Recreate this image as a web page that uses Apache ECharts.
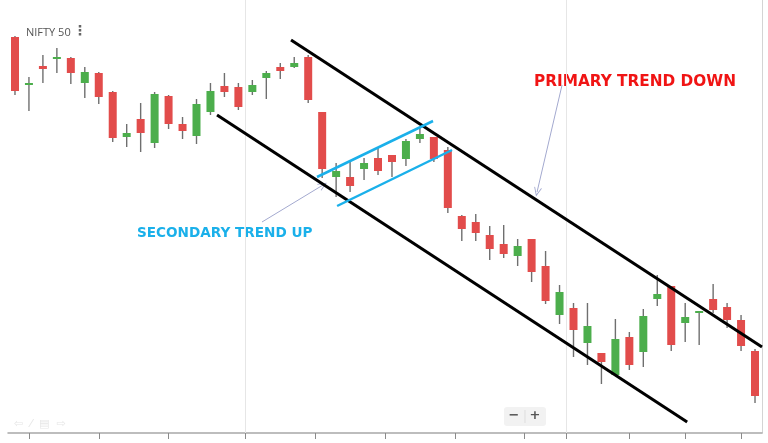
<!DOCTYPE html>
<html>
<head>
<meta charset="utf-8">
<style>
  html, body { margin: 0; padding: 0; background: #fff; }
  #chart { width: 768px; height: 443px; }
</style>
<script src="https://cdn.jsdelivr.net/npm/echarts@6/dist/echarts.min.js"></script>
</head>
<body>
<div id="chart"></div>
<script>
  /******************/
  //region    //data

  // daily bars (index points)
  let opens  = [396, 348, 367, 374, 375, 350, 360, 341, 296, 314, 290, 337, 309, 297, 321, 347, 346, 341,
                355, 366, 366, 376, 321, 256, 256, 264, 275, 278, 274, 294, 296, 283, 217, 211, 198, 189,
                177, 194, 167, 118, 125, 90, 80, 58, 96, 81, 134, 147, 110, 120, 134, 126, 113, 82];
  let closes = [342, 350, 364, 376, 360, 361, 336, 295, 300, 300, 339, 309, 302, 329, 342, 341, 326, 348,
                360, 362, 370, 333, 264, 262, 247, 270, 262, 271, 292, 299, 274, 225, 204, 200, 184, 179,
                187, 161, 132, 141, 103, 107, 71, 94, 68, 117, 139, 88, 116, 122, 123, 113, 87, 37];
  let lows   = [338, 322, 350, 360, 349, 335, 329, 291, 286, 281, 285, 304, 294, 289, 318, 336, 323, 338,
                334, 354, 365, 330, 255, 236, 241, 253, 258, 256, 267, 290, 271, 220, 192, 192, 173, 175,
                167, 151, 129, 109, 76, 68, 49, 57, 63, 66, 127, 82, 91, 88, 120, 105, 82, 30];
  let highs  = [397, 356, 378, 385, 376, 366, 361, 342, 309, 330, 341, 338, 316, 334, 350, 360, 350, 353,
                362, 370, 376, 378, 321, 270, 271, 275, 285, 278, 294, 306, 296, 286, 218, 219, 207, 208,
                194, 194, 182, 148, 130, 130, 80, 114, 101, 124, 158, 147, 130, 122, 149, 130, 118, 84];
  let days = opens.map((v, i) => String(i + 1));

  // axis ticks (in bar units, between / on sessions)
  let tickPos = [1, 6, 11, 16.5, 21.5, 26.5, 31.5, 36.5, 39.5, 44, 48, 52];
  let monthBreaks = [16.5, 39.5];

  // trend channels: [barIndex, level]
  let primaryUpper = [[19.77, 393], [53.5, 86]];
  let primaryLower = [[14.47, 318], [48.14, 11]];
  let secondaryUpper = [[21.63, 256], [29.94, 312]];
  let secondaryLower = [[23.07, 227], [31.3, 283]];
  let secondaryArrow = [[17.69, 211], [22.06, 248]];
  let primaryArrow = [[39.18, 348], [37.39, 241]];

  //endregion

  /******************/
  //region    //chart

  let UP = '#4cae4c', DOWN = '#e24c4b';
  let chevron = 'path://M0,10 L5,0 L10,10 L8.8,10 L5,2.4 L1.2,10 Z';

  function renderCandle(params, api) {
    let idx = api.value(0);
    let o = api.value(1), c = api.value(2), l = api.value(3), h = api.value(4);
    let top = api.coord([idx, Math.max(o, c)]);
    let bot = api.coord([idx, Math.min(o, c)]);
    let lo = api.coord([idx, l]);
    let hi = api.coord([idx, h]);
    let w = 8;
    let color = c >= o ? UP : DOWN;
    return {
      type: 'group',
      children: [
        {
          type: 'line',
          shape: {x1: hi[0], y1: hi[1], x2: lo[0], y2: lo[1]},
          style: {stroke: '#6f6f6f', lineWidth: 1.4}
        },
        {
          type: 'rect',
          shape: {x: top[0] - w / 2, y: top[1], width: w, height: Math.max(bot[1] - top[1], 1.5)},
          style: {fill: color}
        }
      ]
    };
  }

  function trend(data, color, width) {
    return {
      type: 'line',
      xAxisIndex: 1,
      data: data,
      showSymbol: false,
      silent: true,
      lineStyle: {color: color, width: width},
      z: 5
    };
  }

  let chart = echarts.init(document.getElementById('chart'));

  let option = {
    animation: false,
    grid: {left: 8, right: 6, top: 0, bottom: 10},
    xAxis: [
      {
        type: 'category',
        data: days,
        boundaryGap: true,
        axisLine: {show: true, onZero: false, lineStyle: {color: '#a8a8a8', width: 1.5}},
        axisTick: {show: false},
        axisLabel: {show: false},
        splitLine: {show: false}
      },
      {
        type: 'value',
        min: -0.5,
        max: days.length - 0.5,
        position: 'bottom',
        axisLine: {show: false, onZero: false},
        axisTick: {
          show: true,
          customValues: tickPos,
          length: 6,
          lineStyle: {color: '#8a8a8a', width: 1}
        },
        axisLabel: {show: false},
        splitLine: {show: false}
      }
    ],
    yAxis: {
      type: 'value',
      min: 0,
      max: 433,
      position: 'right',
      axisLine: {show: true, onZero: false, lineStyle: {color: '#d4d4d4', width: 1}},
      axisTick: {show: false},
      axisLabel: {show: false},
      splitLine: {show: false}
    },
    series: [
      Object.assign(trend(primaryUpper, '#000', 3), {
        markLine: {
          silent: true,
          symbol: ['none', 'none'],
          label: {show: false},
          lineStyle: {color: '#e6e6e6', width: 1, type: 'solid'},
          data: monthBreaks.map(v => ({xAxis: v}))
        }
      }),
      trend(primaryLower, '#000', 3),
      trend(secondaryUpper, '#1ab0ea', 2.5),
      Object.assign(trend(secondaryLower, '#1ab0ea', 2.5), {
        markLine: {
          silent: true,
          symbol: ['none', chevron],
          symbolSize: [8, 9],
          label: {show: false},
          lineStyle: {color: '#a3a9cf', width: 1, type: 'solid'},
          data: [
            [{coord: secondaryArrow[0]}, {coord: secondaryArrow[1]}],
            [{coord: primaryArrow[0]}, {coord: primaryArrow[1]}]
          ]
        }
      }),
      {
        type: 'custom',
        xAxisIndex: 0,
        renderItem: renderCandle,
        encode: {x: 0, y: [1, 2, 3, 4]},
        data: opens.map((o, i) => [i, o, closes[i], lows[i], highs[i]]),
        z: 3
      }
    ],
    graphic: [
      {
        type: 'text', left: 26, top: 27,
        style: {text: 'NIFTY 50', fill: '#555', font: '11px "Open Sans"'}
      },
      {
        type: 'text', left: 73, top: 24,
        style: {text: '⋮', fill: '#666', font: 'bold 14px "DejaVu Sans"'}
      },
      {
        type: 'text', left: 534, top: 75,
        style: {text: 'PRIMARY TREND DOWN', fill: '#f01414', font: 'bold 15.3px "DejaVu Sans"'}
      },
      {
        type: 'text', left: 137, top: 226,
        style: {text: 'SECONDARY TREND UP', fill: '#1ab0ea', font: 'bold 13.6px "DejaVu Sans"'}
      },
      {
        type: 'group', left: 504, top: 407,
        children: [
          {type: 'rect', shape: {x: 0, y: 0, width: 42, height: 19, r: 3}, style: {fill: '#f2f2f2'}},
          {type: 'line', shape: {x1: 21, y1: 3, x2: 21, y2: 16}, style: {stroke: '#dddddd', lineWidth: 1}},
          {type: 'text', x: 10, y: 9, style: {text: '−', fill: '#555', font: 'bold 13px "DejaVu Sans"', align: 'center', verticalAlign: 'middle'}},
          {type: 'text', x: 31, y: 9, style: {text: '+', fill: '#555', font: 'bold 13px "DejaVu Sans"', align: 'center', verticalAlign: 'middle'}}
        ]
      },
      {
        type: 'text', left: 14, top: 419,
        style: {text: '⇦  ⁄  ▤  ⇨', fill: '#e6e6e6', font: '11px "DejaVu Sans"'}
      }
    ]
  };

  chart.setOption(option);

  //endregion
</script>
</body>
</html>
